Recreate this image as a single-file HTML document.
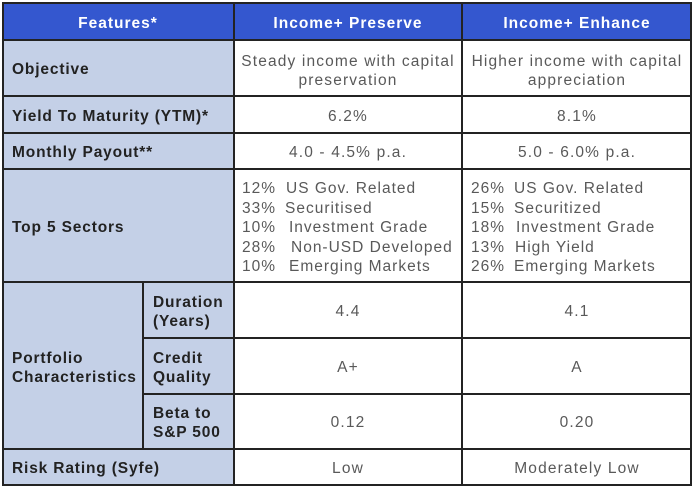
<!DOCTYPE html>
<html><head><meta charset="utf-8"><style>
*{margin:0;padding:0;box-sizing:border-box}
html,body{width:696px;height:490px;background:#fff;overflow:hidden}
body{position:relative;font-family:"Liberation Sans",Arial,sans-serif}
.bg{position:absolute}
.ln{position:absolute;background:#232323}
.t{position:absolute;line-height:20px;font-size:15.5px;white-space:nowrap;margin-top:2px}
.h{color:#fff;font-weight:bold;letter-spacing:1px;text-align:center}
.b{color:#222;font-weight:bold;letter-spacing:0.85px}
.v{color:#595959;letter-spacing:1.15px;text-align:center}
.s{color:#595959;letter-spacing:1.0px}
</style></head><body>
<!-- backgrounds -->
<div class="bg" style="left:2px;top:2px;width:690px;height:38px;background:#3457cf"></div>
<div class="bg" style="left:2px;top:40px;width:232px;height:446px;background:#c4d0e7"></div>

<!-- horizontal lines -->
<div class="ln" style="left:2px;top:2px;width:690px;height:2px"></div>
<div class="ln" style="left:2px;top:39px;width:690px;height:2px"></div>
<div class="ln" style="left:2px;top:95px;width:690px;height:2px"></div>
<div class="ln" style="left:2px;top:132px;width:690px;height:2px"></div>
<div class="ln" style="left:2px;top:168px;width:690px;height:2px"></div>
<div class="ln" style="left:2px;top:281px;width:690px;height:2px"></div>
<div class="ln" style="left:142px;top:337px;width:550px;height:2px"></div>
<div class="ln" style="left:142px;top:393px;width:550px;height:2px"></div>
<div class="ln" style="left:2px;top:448px;width:690px;height:2px"></div>
<div class="ln" style="left:2px;top:484px;width:690px;height:2px"></div>
<!-- vertical lines -->
<div class="ln" style="left:2px;top:2px;width:2px;height:484px"></div>
<div class="ln" style="left:233px;top:2px;width:2px;height:484px"></div>
<div class="ln" style="left:461px;top:2px;width:2px;height:484px"></div>
<div class="ln" style="left:690px;top:2px;width:2px;height:484px"></div>
<div class="ln" style="left:142px;top:282px;width:2px;height:167px"></div>

<!-- header -->
<div class="t h" style="left:2px;width:232px;top:12px">Features*</div>
<div class="t h" style="left:234px;width:228px;top:12px">Income+ Preserve</div>
<div class="t h" style="left:462px;width:230px;top:12px">Income+ Enhance</div>

<!-- labels -->
<div class="t b" style="left:12px;top:58px">Objective</div>
<div class="t b" style="left:12px;top:105px">Yield To Maturity (YTM)*</div>
<div class="t b" style="left:12px;top:141px">Monthly Payout**</div>
<div class="t b" style="left:12px;top:216px">Top 5 Sectors</div>
<div class="t b" style="left:12px;top:347px">Portfolio</div>
<div class="t b" style="left:12px;top:366px">Characteristics</div>
<div class="t b" style="left:153px;top:291px">Duration</div>
<div class="t b" style="left:153px;top:310px">(Years)</div>
<div class="t b" style="left:153px;top:347px">Credit</div>
<div class="t b" style="left:153px;top:366px">Quality</div>
<div class="t b" style="left:153px;top:402px">Beta to</div>
<div class="t b" style="left:153px;top:421px">S&amp;P 500</div>
<div class="t b" style="left:12px;top:457px">Risk Rating (Syfe)</div>

<!-- Preserve values -->
<div class="t v" style="left:234px;width:228px;top:50px">Steady income with capital</div>
<div class="t v" style="left:234px;width:228px;top:69px">preservation</div>
<div class="t v" style="left:234px;width:228px;top:105px">6.2%</div>
<div class="t v" style="left:234px;width:228px;top:141px">4.0 - 4.5% p.a.</div>
<div class="t v" style="left:234px;width:228px;top:300px">4.4</div>
<div class="t v" style="left:234px;width:228px;top:356px">A+</div>
<div class="t v" style="left:234px;width:228px;top:411px">0.12</div>
<div class="t v" style="left:234px;width:228px;top:457px">Low</div>

<!-- Enhance values -->
<div class="t v" style="left:462px;width:230px;top:50px">Higher income with capital</div>
<div class="t v" style="left:462px;width:230px;top:69px">appreciation</div>
<div class="t v" style="left:462px;width:230px;top:105px">8.1%</div>
<div class="t v" style="left:462px;width:230px;top:141px">5.0 - 6.0% p.a.</div>
<div class="t v" style="left:462px;width:230px;top:300px">4.1</div>
<div class="t v" style="left:462px;width:230px;top:356px">A</div>
<div class="t v" style="left:462px;width:230px;top:411px">0.20</div>
<div class="t v" style="left:462px;width:230px;top:457px">Moderately Low</div>

<!-- sectors Preserve -->
<div class="t s" style="left:242px;top:177px">12%</div><div class="t s" style="left:286px;top:177px">US Gov. Related</div>
<div class="t s" style="left:242px;top:197px">33%</div><div class="t s" style="left:285px;top:197px">Securitised</div>
<div class="t s" style="left:242px;top:216px">10%</div><div class="t s" style="left:289px;top:216px">Investment Grade</div>
<div class="t s" style="left:242px;top:236px">28%</div><div class="t s" style="left:291px;top:236px">Non-USD Developed</div>
<div class="t s" style="left:242px;top:255px">10%</div><div class="t s" style="left:289px;top:255px">Emerging Markets</div>

<!-- sectors Enhance -->
<div class="t s" style="left:471px;top:177px">26%</div><div class="t s" style="left:514px;top:177px">US Gov. Related</div>
<div class="t s" style="left:471px;top:197px">15%</div><div class="t s" style="left:514px;top:197px">Securitized</div>
<div class="t s" style="left:471px;top:216px">18%</div><div class="t s" style="left:516px;top:216px">Investment Grade</div>
<div class="t s" style="left:471px;top:236px">13%</div><div class="t s" style="left:515px;top:236px">High Yield</div>
<div class="t s" style="left:471px;top:255px">26%</div><div class="t s" style="left:514px;top:255px">Emerging Markets</div>
</body></html>
